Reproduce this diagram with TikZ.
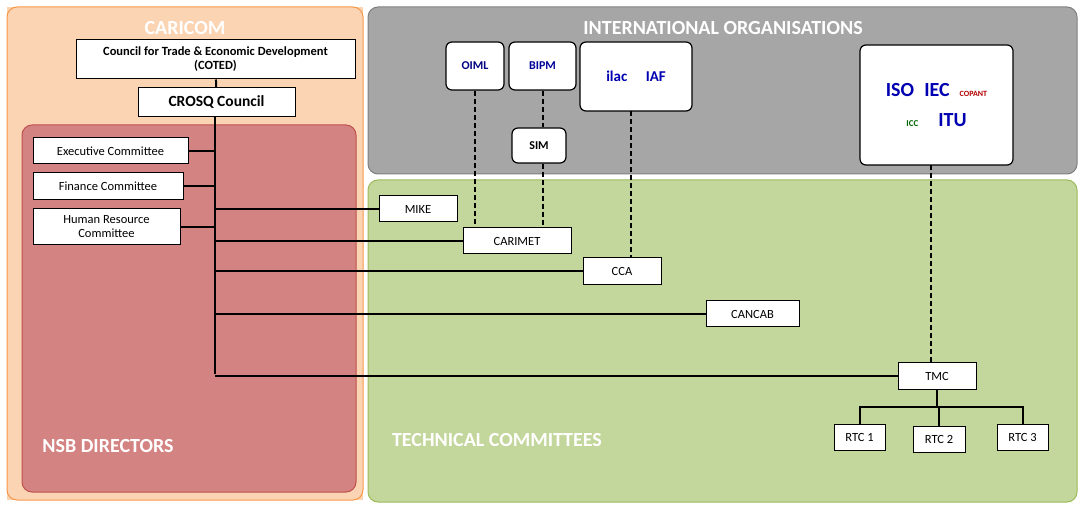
\documentclass[tikz,border=0pt]{standalone}
\usepackage{fontspec}
\setmainfont{Carlito}
\begin{document}
\begin{tikzpicture}[x=1pt,y=-1pt,
 region/.style={draw=#1,line width=1pt,rounded corners=10pt},
 title/.style={text=white,font=\bfseries\fontsize{20}{22}\selectfont},
 box/.style={draw=black,fill=white,line width=1pt,font=\fontsize{12.5}{14}\selectfont,inner sep=0pt,align=center},
 logo/.style={draw=black,fill=white,line width=1.2pt,rounded corners=6pt,inner sep=0pt,align=center,font=\fontsize{12}{13}\selectfont\bfseries},
 conn/.style={line width=2pt},
 dl/.style={line width=2pt,dash pattern=on 5pt off 3pt}]
\useasboundingbox (0,0) rectangle (1084,510);
\definecolor{org}{HTML}{FBD4B4}\definecolor{orgd}{HTML}{F79646}
\definecolor{nsb}{HTML}{D38381}\definecolor{nsbd}{HTML}{C0504D}
\definecolor{gr}{HTML}{A6A6A6}\definecolor{grd}{HTML}{7F7F7F}
\definecolor{grn}{HTML}{C3D69B}\definecolor{grnd}{HTML}{9BBB59}
\fill[org] (7,7) rectangle (363,500); \draw[region=orgd] (7,7) rectangle (363,500);
\fill[nsb,rounded corners=10pt] (22,125) rectangle (356,492); \draw[region=nsbd] (22,125) rectangle (356,492);
\fill[gr,rounded corners=10pt] (368,7) rectangle (1077,174); \draw[region=grd] (368,7) rectangle (1077,174);
\fill[grn,rounded corners=10pt] (368,180) rectangle (1077,502); \draw[region=grnd] (368,180) rectangle (1077,502);
\node[title] (t1) at (185,28) {CARICOM};
\node[title] (t2) at (723,28) {INTERNATIONAL ORGANISATIONS};
\node[title] (t3) at (108,446) {NSB DIRECTORS};
\node[title] (t4) at (497,440) {TECHNICAL COMMITTEES};
\node[box,font=\bfseries\fontsize{12.5}{14}\selectfont,minimum width=279pt,minimum height=39pt] (coted) at (215.5,59.5) {Council for Trade \& Economic Development\\(COTED)};
\node[box,font=\bfseries\fontsize{15.5}{17}\selectfont,minimum width=157pt,minimum height=29pt] (crosq) at (216.5,102.5) {CROSQ Council};
\node[box,minimum width=155pt,minimum height=26pt] (exec) at (110.5,151) {Executive Committee};
\node[box,minimum width=150pt,minimum height=27pt] (fin) at (108,186.5) {Finance Committee};
\node[box,minimum width=147pt,minimum height=36pt] (hr) at (106.5,227) {Human Resource\\Committee};
\node[box,minimum width=78pt,minimum height=26pt] (mike) at (418,209) {MIKE};
\node[box,minimum width=108pt,minimum height=26pt] (carimet) at (517,241) {CARIMET};
\node[box,minimum width=78pt,minimum height=27pt] (cca) at (622,271.5) {CCA};
\node[box,minimum width=93pt,minimum height=26pt] (cancab) at (752.5,314) {CANCAB};
\node[box,minimum width=78pt,minimum height=26pt] (tmc) at (937,376) {TMC};
\node[box,minimum width=51pt,minimum height=26pt] (r1) at (859.5,437) {RTC 1};
\node[box,minimum width=52pt,minimum height=26pt] (r2) at (939,439) {RTC 2};
\node[box,minimum width=51pt,minimum height=26pt] (r3) at (1022.5,437) {RTC 3};
\node[logo,minimum width=58pt,minimum height=48pt,text=blue!50!black] (oiml) at (475,66) {OIML};
\node[logo,minimum width=67pt,minimum height=48pt,text=blue!60!black] (bipm) at (542.5,66) {BIPM};
\node[logo,minimum width=112pt,minimum height=69pt,text=blue!70!black,font=\bfseries\fontsize{15}{16}\selectfont] (ilac) at (636,76.5) {ilac \quad IAF};
\node[logo,minimum width=54pt,minimum height=35pt] (sim) at (539,145.5) {SIM};
\node[logo,minimum width=153pt,minimum height=120pt,text=blue!70!black,font=\bfseries\fontsize{20}{30}\selectfont] (iso) at (936.5,105) {ISO\; IEC\; {\fontsize{8}{9}\selectfont\color{red!70!black}COPANT}\\{\fontsize{9}{9}\selectfont\color{green!40!black}ICC}\quad ITU};
\coordinate (s0) at (215,117);
\coordinate (s1) at (215,374);
\draw[conn] (coted) -- (crosq);
\draw[conn] (crosq.south -| s0) -- (s1);
\draw[conn] (exec.east) -- (exec.east -| s0);
\draw[conn] (fin.east) -- (fin.east -| s0);
\draw[conn] (hr.east) -- (hr.east -| s0);
\draw[conn] (mike.west) -- (mike.west -| s0);
\draw[conn] (carimet.west) -- (carimet.west -| s0);
\draw[conn] (cca.west) -- (cca.west -| s0);
\draw[conn] (cancab.west) -- (cancab.west -| s0);
\draw[conn] (tmc.west) -- (tmc.west -| s0);
\draw[dl] (oiml.south) -- (oiml.south |- carimet.north);
\draw[dl] (bipm.south) -- (bipm.south |- sim.north);
\draw[dl] (sim.south -| bipm.south) -- (bipm.south |- carimet.north);
\draw[dl] (631,111) -- (631,258);
\draw[dl] (931,165) -- (931,363);
\coordinate (h) at (937,407);
\draw[conn] (tmc.south) -- (h);
\draw[conn] (r1.north) |- (h) -| (r3.north);
\draw[conn] (h) -| (r2.north);
\end{tikzpicture}
\end{document}
